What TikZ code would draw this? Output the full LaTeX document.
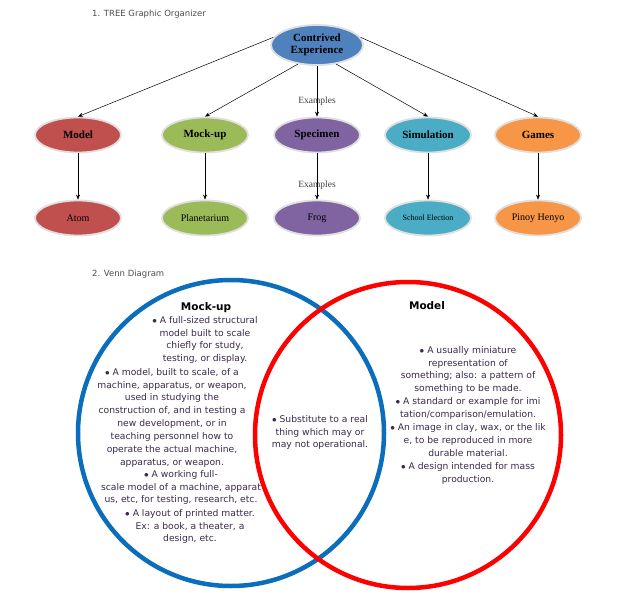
\documentclass[tikz,border=0pt]{standalone}
\usepackage{fontspec}
\setmainfont{Liberation Serif}
\newfontfamily\vsans{DejaVu Sans}
\usetikzlibrary{shapes.geometric,arrows.meta}
\definecolor{cTop}{HTML}{4F81BD}
\definecolor{cRed}{HTML}{C0504D}
\definecolor{cGreen}{HTML}{9BBB59}
\definecolor{cPurp}{HTML}{8064A2}
\definecolor{cCyan}{HTML}{4BACC6}
\definecolor{cOrg}{HTML}{F79646}
\definecolor{vtxt}{HTML}{3A2A4A}
\definecolor{vblue}{HTML}{0A6EBD}
\begin{document}
\begin{tikzpicture}[x=1pt,y=-1pt,
  ell/.style={ellipse,draw=gray!25,line width=1.8pt,minimum width=86pt,minimum height=35pt,inner sep=0pt,font=\bfseries\fontsize{11}{12}\selectfont},
  ell2/.style={ell,font=\fontsize{10}{11}\selectfont},
  arr/.style={-{Stealth[length=5pt,width=4pt]},line width=0.5pt},
  vt/.style={align=center,text=vtxt,font=\vsans\fontsize{9.2}{12.9}\selectfont,inner sep=0pt,anchor=north},
  hd/.style={anchor=west,text=black!70,font=\vsans\fontsize{8.5}{10}\selectfont,inner sep=0pt}]
\useasboundingbox[fill=white] (0,0) rectangle (640,594);
\node[hd] (h1) at (92,14) {1. TREE Graphic Organizer};
\node[hd] (h2) at (92,274) {2. Venn Diagram};
\node[ell,fill=cTop,minimum width=92pt,minimum height=40pt,align=center,font=\bfseries\fontsize{11}{12}\selectfont] (top) at (317,45) {Contrived\\Experience};
\foreach \n/\c/\x/\a/\b in {m/cRed/78/Model/Atom, k/cGreen/205/Mock-up/Planetarium, s/cPurp/317/Specimen/Frog, i/cCyan/428/Simulation/{\fontsize{8}{9}\selectfont School Election}, g/cOrg/538/Games/Pinoy Henyo}{
  \node[ell,fill=\c] (\n1) at (\x,135) {\a};
  \node[ell2,fill=\c] (\n2) at (\x,218) {\b};
  \draw[arr] (\n1.south) -- (\n2.north);
}
\draw[arr] (top.170) -- (m1.north);
\draw[arr] (top.225) -- (k1.north);
\draw[arr] (top.south) -- (s1.north);
\draw[arr] (top.315) -- (i1.north);
\draw[arr] (top.10) -- (g1.north);
\node[font=\fontsize{9.5}{10}\selectfont,text=black!75] (e1) at (317,101) {Examples};
\node[font=\fontsize{9.5}{10}\selectfont,text=black!75] (e2) at (317,185) {Examples};
\draw[vblue,line width=4.5pt] (231,433) circle (153);
\draw[red,line width=4.5pt] (408,435) circle (153);
\node[font=\vsans\bfseries\fontsize{10.5}{11}\selectfont] (t1) at (206,308) {Mock-up};
\node[font=\vsans\bfseries\fontsize{10.5}{11}\selectfont] (t2) at (427,306) {Model};
\node[vt] (b1a) at (205,316) {$\bullet$ A full-sized structural\\ model built to scale\\ chiefly for study,\\ testing, or display.};
\node[vt] (b1b) at (172,368) {$\bullet$ A model, built to scale, of a\\ machine, apparatus, or weapon,\\ used in studying the\\ construction of, and in testing a\\ new development, or in\\ teaching personnel how to\\ operate the actual machine,\\ apparatus, or weapon.};
\node[vt] (b1c) at (181,470) {$\bullet$ A working full-\\ scale model of a machine, apparat\\us, etc, for testing, research, etc.};
\node[vt] (b1d) at (190,509) {$\bullet$ A layout of printed matter.\\ Ex: a book, a theater, a\\ design, etc.};
\node[vt] (b2) at (320,415) {$\bullet$ Substitute to a real\\ thing which may or\\ may not operational.};
\node[vt] (b3) at (468,346) {%
$\bullet$ A usually miniature\\ representation of\\ something; also: a pattern of\\ something to be made.\\
$\bullet$ A standard or example for imi\\tation/comparison/emulation.\\
$\bullet$ An image in clay, wax, or the lik\\e, to be reproduced in more\\ durable material.\\
$\bullet$ A design intended for mass\\ production.};
\end{tikzpicture}
\end{document}
